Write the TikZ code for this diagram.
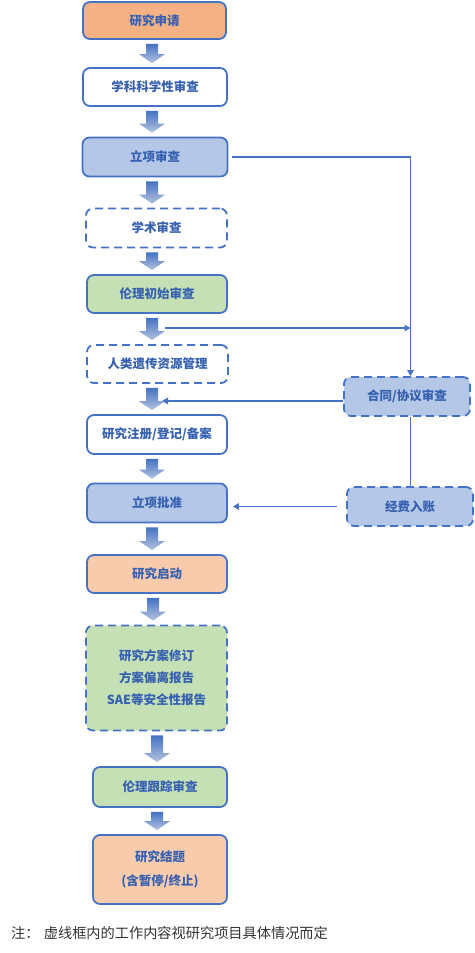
\documentclass[tikz,border=0pt]{standalone}
\usepackage{fontspec}
\setmainfont{Noto Sans CJK SC}
\usetikzlibrary{arrows.meta,calc}
\definecolor{bd}{HTML}{4472C4}
\definecolor{txt}{HTML}{3660B0}
\definecolor{orangeA}{HTML}{F4B183}
\definecolor{orangeB}{HTML}{F8CBAD}
\definecolor{blueA}{HTML}{B4C7E7}
\definecolor{greenA}{HTML}{C5E0B4}
\definecolor{arrlight}{HTML}{B4C3DE}
\definecolor{notec}{HTML}{333333}
\tikzset{
  box/.style={draw=bd, line width=1.8pt, rounded corners=7pt, text=txt,
    font=\bfseries\fontsize{12.5}{22}\selectfont, align=center, inner sep=0pt},
  dbox/.style={box, dash pattern=on 8pt off 5pt},
  conn/.style={draw=bd, line width=1.6pt},
  tipped/.style={-{Triangle[length=6pt,width=6.5pt]}},
  barrowstyle/.style={top color=bd, middle color=bd, bottom color=arrlight, draw=none},
}
% block arrow: #1 x, #2 upper node, #3 lower node
\newcommand\blockarr[3]{%
  \shade[barrowstyle] let \p1=(#2.south), \p2=(#3.north) in
    (#1pt-6pt,\y1-4pt) -- (#1pt+6pt,\y1-4pt) -- (#1pt+6pt,\y2+13pt)
    -- (#1pt+13pt,\y2+13pt) -- (#1pt,\y2+4pt) -- (#1pt-13pt,\y2+13pt)
    -- (#1pt-6pt,\y2+13pt) -- cycle;}
\begin{document}
\begin{tikzpicture}[x=1pt,y=-1pt]
\useasboundingbox (0,0) rectangle (474,953);
\node[box, fill=orangeA, minimum width=143, minimum height=37] (b1) at (154.5,20.5) {研究申请};
\node[box, fill=white, minimum width=144, minimum height=38] (b2) at (155,87) {学科科学性审查};
\node[box, fill=blueA, minimum width=145, minimum height=39] (b3) at (155,157) {立项审查};
\node[dbox, fill=white, minimum width=141, minimum height=39] (b4) at (156.5,228) {学术审查};
\node[box, fill=greenA, minimum width=140, minimum height=38] (b5) at (157,294) {伦理初始审查};
\node[dbox, fill=white, minimum width=141, minimum height=38] (b6) at (157.5,364) {人类遗传资源管理};
\node[box, fill=white, minimum width=140, minimum height=39] (b7) at (157,434.5) {研究注册/登记/备案};
\node[box, fill=blueA, minimum width=140, minimum height=39] (b8) at (157,503) {立项批准};
\node[box, fill=orangeB, minimum width=140, minimum height=38] (b9) at (157,574) {研究启动};
\node[dbox, fill=greenA, minimum width=141, minimum height=105] (b10) at (156.5,678) {研究方案修订\\方案偏离报告\\SAE等安全性报告};
\node[box, fill=greenA, minimum width=134, minimum height=40] (b11) at (160,787) {伦理跟踪审查};
\node[box, fill=orangeB, minimum width=134, minimum height=69, font=\bfseries\fontsize{12.5}{24}\selectfont] (b12) at (160,869.5) {研究结题\\(含暂停/终止)};
\node[dbox, fill=blueA, minimum width=126, minimum height=39] (r1) at (407,396.5) {合同/协议审查};
\node[dbox, fill=blueA, minimum width=126, minimum height=39] (r2) at (410,506.5) {经费入账};

\blockarr{152}{b1}{b2}
\blockarr{152}{b2}{b3}
\blockarr{152}{b3}{b4}
\blockarr{152}{b4}{b5}
\blockarr{152}{b5}{b6}
\blockarr{152}{b6}{b7}
\blockarr{152}{b7}{b8}
\blockarr{152}{b8}{b9}
\blockarr{153}{b9}{b10}
\blockarr{157}{b10}{b11}
\blockarr{157}{b11}{b12}

\coordinate (vx) at ([xshift=3.5pt]r1.north);
\coordinate (c1) at (165,328);
\coordinate (c2) at (162,401);
\draw[conn,tipped] ([xshift=4pt]b3.east) -| (vx);
\draw[conn,tipped] (c1) -- (c1 -| vx);
\draw[conn,tipped] (r1.west |- c2) -- (c2);
\draw[conn] (vx |- r1.south) -- (vx |- r2.north);
\draw[conn,tipped] ([xshift=-9pt]r2.west) -- ([xshift=5pt]b8.east |- r2.west);

\node[anchor=west, text=notec, font=\fontsize{14.2}{16}\selectfont, inner sep=0pt] (note) at (11,933) {注：\hspace{0.3em}虚线框内的工作内容视研究项目具体情况而定};
\end{tikzpicture}
\end{document}
